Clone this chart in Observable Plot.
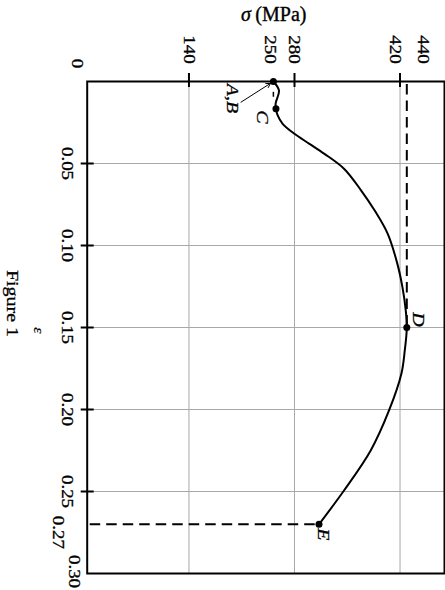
<!DOCTYPE html>
<html>
<head>
<meta charset="utf-8">
<script src="https://cdn.jsdelivr.net/npm/d3@7"></script>
<script src="https://cdn.jsdelivr.net/npm/@observablehq/plot@0.6"></script>
<style>
  html, body { margin: 0; padding: 0; background: #fff; }
  #chart svg { display: block; }
</style>
</head>
<body>
<div id="chart"></div>
<script>
// ---- data ----
const curveEps   = [0, 0.0055, 0.0134, 0.01665, 0.0207, 0.0258, 0.0319, 0.038, 0.0441, 0.0532, 0.0665, 0.0787, 0.0929, 0.1112, 0.1254, 0.1396, 0.15, 0.164, 0.1782, 0.2006, 0.225, 0.2494, 0.27];
const curveSigma = [252, 259.4, 255, 255.4, 257.7, 264.3, 279.9, 299.8, 319.7, 345.7, 368.5, 386.4, 403.7, 416.5, 423.2, 427.6, 429, 426.3, 421.8, 405.4, 381.1, 345.7, 312.5];

const pointLabels = ["A,B", "C", "D", "E"];
const pointEps    = [0, 0.01665, 0.15, 0.27];
const pointSigma  = [252, 255.4, 429, 312.5];

const sigmaDomain     = [5, 479];
const epsDomain       = [0, 0.30];
const sigmaGridTicks  = [140, 280, 420];
const sigmaTickLabels = [140, 250, 280, 420, 440];
const epsGridTicks    = [0.05, 0.10, 0.15, 0.20, 0.25];
const epsTickValues   = [0, 0.05, 0.10, 0.15, 0.20, 0.25, 0.27, 0.30];
const epsTickText     = ["0", "0.05", "0.10", "0.15", "0.20", "0.25", "0.27", "0.30"];

// annotation anchors (arrow tail for "A,B" label, small dash between A and C)
const arrowTailSigma = 209, arrowTailEps = 0.0126;
const smallDashSigma = 252, smallDashEps1 = 0.0066, smallDashEps2 = 0.0096;

// ---- derived tables ----
const curve = curveEps.map((e, i) => ({eps: e, sigma: curveSigma[i]}));
const points = pointLabels.map((l, i) => ({label: l, eps: pointEps[i], sigma: pointSigma[i]}));
const A = points[0], D = points[2], E = points[3];

// ---- styling nudges for labels ----
const sigmaLabelDx = {140: 0, 250: -2, 280: 0, 420: -5, 440: 8};
const epsLabelNudge = {"0": [-10, -18], "0.27": [-29, 8], "0.30": [-13, -2]};
const pointLabelNudge = {"A,B": [-41, 17], "C": [-13, 8], "D": [12, -8], "E": [4, 10]};

const FONT = "Liberation Serif";
const textStyle = {fill: "black", stroke: "black", strokeWidth: 0.35, textAnchor: "middle", lineAnchor: "middle", fontFamily: FONT};

const marks = [
  // grid
  Plot.ruleX(sigmaGridTicks, {stroke: "#a8a8a8", strokeWidth: 1}),
  Plot.ruleY(epsGridTicks, {stroke: "#a8a8a8", strokeWidth: 1}),
  // dashed guide lines
  Plot.ruleX([D], {x: "sigma", y1: () => epsDomain[0], y2: "eps", insetTop: 3, stroke: "black", strokeWidth: 2, strokeDasharray: "10.5,6"}),
  Plot.ruleY([E], {y: "eps", x1: () => sigmaDomain[0], x2: "sigma", insetLeft: 3, stroke: "black", strokeWidth: 2, strokeDasharray: "10.5,6"}),
  // frame
  Plot.frame({stroke: "black", strokeWidth: 2}),
  // tick marks crossing the frame
  Plot.ruleX(sigmaGridTicks, {y1: () => epsDomain[0], y2: () => epsDomain[0], insetTop: 6, insetBottom: 8, stroke: "black", strokeWidth: 2}),
  Plot.ruleY(epsGridTicks, {x1: () => sigmaDomain[0], x2: () => sigmaDomain[0], insetLeft: -6, insetRight: -7, stroke: "black", strokeWidth: 2}),
  // curve
  Plot.line(curve, {x: "sigma", y: "eps", curve: "catmull-rom", stroke: "black", strokeWidth: 2}),
  // small dash between A and C
  Plot.ruleX([smallDashSigma], {x: d => d, y1: () => smallDashEps1, y2: () => smallDashEps2, stroke: "black", strokeWidth: 1.5}),
  // arrow from "A,B" label to A
  Plot.arrow([A], {x1: () => arrowTailSigma, y1: () => arrowTailEps, x2: "sigma", y2: "eps", insetEnd: 3.5, headLength: 7, strokeWidth: 1, stroke: "black"}),
  // points
  Plot.dot(points, {x: "sigma", y: "eps", r: 3.5, fill: "black", stroke: "none"}),
  // point labels
  ...points.map(p => Plot.text([p], {
    ...textStyle,
    x: "sigma", y: "eps", text: "label", rotate: 90,
    dx: pointLabelNudge[p.label][0], dy: pointLabelNudge[p.label][1],
    fontStyle: "italic", fontSize: 20
  })),
  // sigma tick labels (top)
  ...sigmaTickLabels.map(v => Plot.text([v], {
    ...textStyle,
    x: d => d, text: d => String(d), frameAnchor: "top", dy: -32, dx: sigmaLabelDx[v],
    rotate: 90, fontSize: 19
  })),
  // eps tick labels (left)
  ...epsTickValues.map((v, i) => {
    const t = epsTickText[i];
    const n = epsLabelNudge[t] || [-20, 0];
    return Plot.text([v], {
      ...textStyle,
      y: d => d, text: () => t, frameAnchor: "left", dx: n[0], dy: n[1],
      rotate: 90, fontSize: 19
    });
  }),
  // axis titles and caption
  Plot.text(["σ"], {...textStyle, frameAnchor: "top", dx: -20, dy: -67, fontSize: 20, fontStyle: "italic"}),
  Plot.text(["(MPa)"], {...textStyle, frameAnchor: "top", dx: -10.5, dy: -67, fontSize: 20, textAnchor: "start"}),
  Plot.text(["ε"], {...textStyle, strokeWidth: 0.2, frameAnchor: "left", dx: -49, dy: 3, rotate: 90, fontStyle: "italic", fontSize: 16}),
  Plot.text(["Figure 1"], {...textStyle, frameAnchor: "left", dx: -75, dy: -24, rotate: 90, fontSize: 20})
];

const chart = Plot.plot({
  width: 445,
  height: 590,
  marginLeft: 86.7,
  marginRight: 1,
  marginTop: 81,
  marginBottom: 17,
  style: {background: "#fff", fontFamily: FONT, color: "black", overflow: "visible"},
  x: {domain: sigmaDomain, axis: null},
  y: {domain: epsDomain, reverse: true, axis: null},
  marks
});

// squash rotated glyphs slightly across the reading direction, as in the reference
d3.select(chart).selectAll("text").each(function() {
  const t = this.getAttribute("transform");
  if (t && t.includes("rotate(")) this.setAttribute("transform", t + " scale(1,0.85)");
});

document.getElementById("chart").appendChild(chart);
</script>
</body>
</html>
